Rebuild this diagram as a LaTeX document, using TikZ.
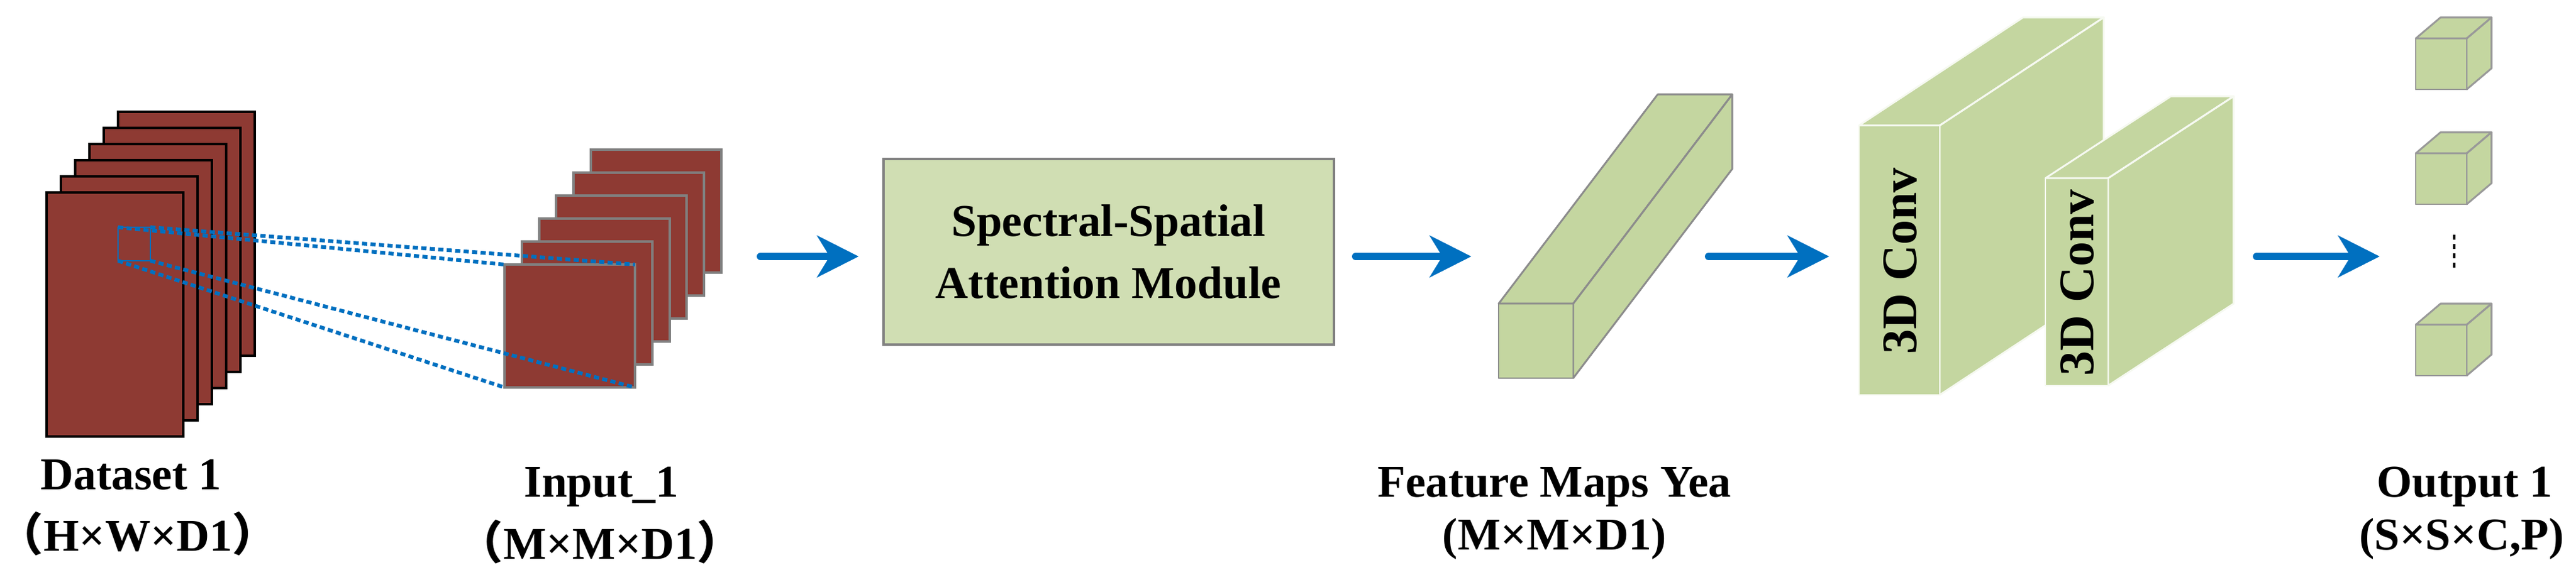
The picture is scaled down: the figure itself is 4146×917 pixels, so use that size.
\documentclass[tikz,border=0pt]{standalone}
\usepackage{fontspec}
\setmainfont{Liberation Serif}
\newfontfamily\cjk{Noto Sans CJK SC}
\usetikzlibrary{arrows.meta}
\definecolor{dred}{HTML}{8E3A33}
\definecolor{lgreen}{HTML}{C4D6A0}
\definecolor{bblue}{HTML}{0070C0}
\newcommand\mycub[7]{%
  \fill[#7] (#1,#2) -- (#3,#2) -- ++(#5,#6) -- ++(#1-#3,0) -- cycle;
  \fill[#7] (#3,#2) -- ++(#5,#6) -- ++(0,#4-#2) -- (#3,#4) -- cycle;
  \fill[#7] (#1,#2) rectangle (#3,#4);
  \draw[#7,fill=none] (#1,#2) -- (#3,#2) -- ++(#5,#6) -- ++(#1-#3,0) -- cycle;
  \draw[#7,fill=none] (#3,#2) -- ++(#5,#6) -- ++(0,#4-#2) -- (#3,#4);
  \draw[#7,fill=none] (#1,#2) rectangle (#3,#4);}
\tikzset{
  lbl/.style={font=\bfseries\fontsize{22}{26}\selectfont, anchor=base},
  arr/.style={draw=bblue, line width=3.6pt, line cap=round, -{Stealth[length=20pt,width=20pt,inset=6pt]}},
  dsheet/.style={fill=dred, draw=black, line width=1pt},
  isheet/.style={fill=dred, draw=gray, line width=1.2pt},
  fbox/.style={fill=lgreen, draw=gray!90, line width=0.8pt, line join=round},
  cbox/.style={fill=lgreen, draw=white!85!lgreen, line width=0.8pt, line join=round},
  cube/.style={fill=lgreen, draw=gray!80, line width=0.8pt, line join=round},
  blued/.style={draw=bblue, line width=1.8pt, dash pattern=on 2.5pt off 1.6pt},
  conv/.style={font=\bfseries\fontsize{24}{28}\selectfont, rotate=90}
}
\begin{document}
\begin{tikzpicture}[x=0.3pt,y=-0.3pt]
\useasboundingbox (0,0) rectangle (4146,917);
% Dataset stack
\foreach \i in {5,4,...,0}{
  \filldraw[dsheet] (75+23*\i,310-26*\i) rectangle ++(220,393);
}
\draw[bblue, line width=0.6pt] (190,366) rectangle (242,420);
% Input stack
\foreach \i in {5,4,...,0}{
  \filldraw[isheet] (812+27.8*\i,426-37*\i) rectangle ++(210,198);
}
\coordinate (s1) at (190,366); \coordinate (s2) at (242,366);
\coordinate (s3) at (190,420); \coordinate (s4) at (242,420);
\coordinate (t1) at (812,426); \coordinate (t2) at (1022,426);
\coordinate (t3) at (812,624); \coordinate (t4) at (1022,624);
\draw[blued] (s1) -- (t1); \draw[blued] (s2) -- (t2);
\draw[blued] (s3) -- (t3); \draw[blued] (s4) -- (t4);
% SSAM
\node[draw=gray, line width=1.2pt, fill=lgreen!80!white, minimum width=725*0.3pt, minimum height=299*0.3pt,
  align=center, font=\bfseries\fontsize{22}{30}\selectfont] (ssam) at (1784,405) {Spectral-Spatial\\Attention Module};
% Feature map box
\mycub{2412}{489}{2532}{609}{256}{-337}{fbox}
% Conv boxes
\mycub{2992}{202}{3122}{636}{264}{-174}{cbox}
\node[conv] (c1) at (3058,420) {3D Conv};
\mycub{3292}{287}{3393}{621}{202}{-132}{cbox}
\node[conv] (c2) at (3343,455) {3D Conv};
% Cubes
\foreach \y in {62,247,523}{
  \mycub{3888}{\y}{3970}{\y+82}{40}{-34}{cube}
}
\coordinate (d1) at (3950,378); \coordinate (d2) at (3950,437);
\draw[line width=1pt, dash pattern=on 2.5pt off 2pt] (d1) -- (d2);
% Arrows
\coordinate (a1s) at (1224,413); \coordinate (a1e) at (1382,413);
\coordinate (a2s) at (2182,413); \coordinate (a2e) at (2368,413);
\coordinate (a3s) at (2750,413); \coordinate (a3e) at (2944,413);
\coordinate (a4s) at (3632,413); \coordinate (a4e) at (3830,413);
\draw[arr] (a1s) -- (a1e);
\draw[arr] (a2s) -- (a2e);
\draw[arr] (a3s) -- (a3e);
\draw[arr] (a4s) -- (a4e);
% Labels
\node[lbl] (l1) at (211,788) {Dataset 1};
\node[lbl] (l1b) at (222,887) {{\cjk （}H×W×D1{\cjk ）}};
\node[lbl] (l2) at (968,800) {Input\_1};
\node[lbl] (l2b) at (966,900) {{\cjk （}M×M×D1{\cjk ）}};
\node[lbl] (l3) at (2502,800) {Feature Maps Yea};
\node[lbl] (l3b) at (2502,885) {(M×M×D1)};
\node[lbl] (l4) at (3967,800) {Output 1};
\node[lbl] (l4b) at (3962,885) {(S×S×C,P)};
\end{tikzpicture}
\end{document}
